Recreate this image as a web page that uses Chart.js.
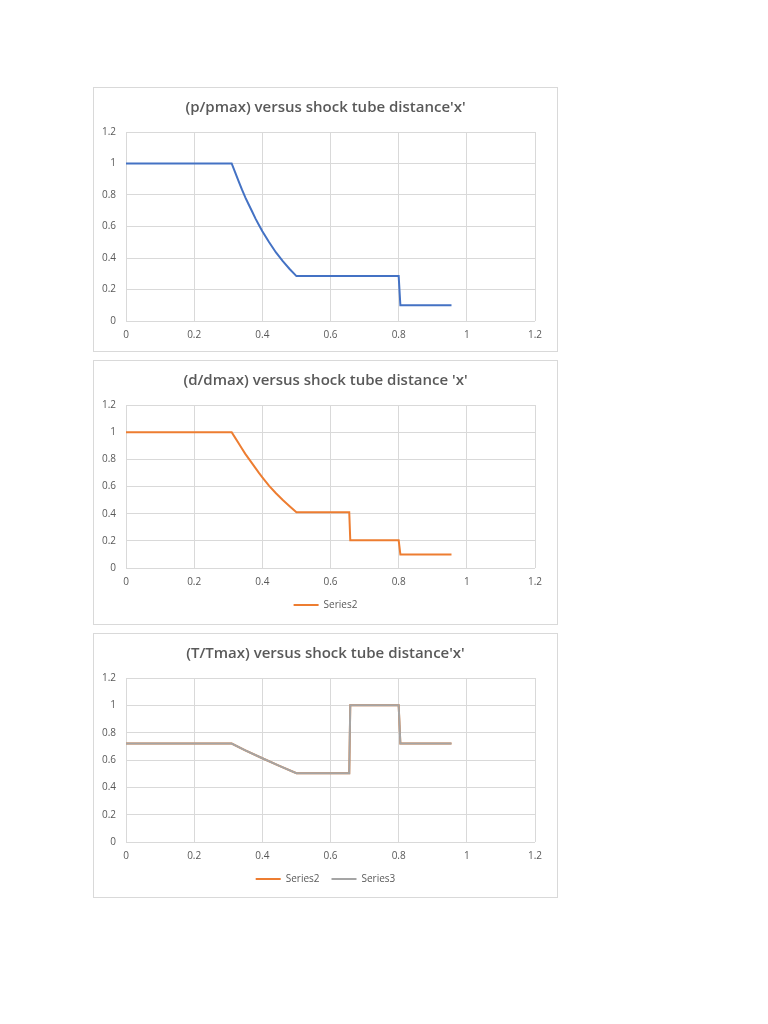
<!DOCTYPE html>
<html lang="en">
  <head>
    <meta charset="UTF-8" />
    <title>Shock tube</title>
    <style>
      body { margin: 0; background: #fff; }
      .box {
        position: absolute;
        left: 93px;
        width: 465px;
        height: 265px;
        border: 1px solid #d9d9d9;
        box-sizing: border-box;
      }
    </style>
  </head>
  <body>
    <div class="box" style="top: 87px"><canvas id="chartP" width="463" height="263"></canvas></div>
    <div class="box" style="top: 360px"><canvas id="chartD" width="463" height="263"></canvas></div>
    <div class="box" style="top: 633px"><canvas id="chartT" width="463" height="263"></canvas></div>
    <script src="https://cdn.jsdelivr.net/npm/chart.js"></script>
    <script>
      // values
      const pressureX = [0, 0.31, 0.32, 0.33, 0.34, 0.35, 0.36, 0.37, 0.38, 0.39, 0.4, 0.42, 0.44, 0.46, 0.48, 0.5, 0.8, 0.805, 0.955];
      const pressureY = [1, 1, 0.945, 0.89, 0.835, 0.785, 0.74, 0.695, 0.65, 0.61, 0.57, 0.5, 0.435, 0.38, 0.33, 0.285, 0.285, 0.1, 0.1];

      const densityX = [0, 0.31, 0.32, 0.33, 0.34, 0.35, 0.36, 0.37, 0.38, 0.39, 0.4, 0.42, 0.44, 0.46, 0.48, 0.5, 0.655, 0.658, 0.8, 0.805, 0.955];
      const densityY = [1, 1, 0.96, 0.92, 0.88, 0.84, 0.805, 0.77, 0.735, 0.7, 0.668, 0.605, 0.55, 0.5, 0.454, 0.41, 0.41, 0.205, 0.205, 0.1, 0.1];

      const tempX = [0, 0.31, 0.35, 0.4, 0.45, 0.5, 0.655, 0.658, 0.8, 0.805, 0.955];
      const tempY = [0.72, 0.72, 0.671, 0.613, 0.557, 0.503, 0.503, 1, 1, 0.72, 0.72];

      const axisTicks = [0, 0.2, 0.4, 0.6, 0.8, 1, 1.2];

      const BLUE = "#4472c4";
      const ORANGE = "#ed7d31";
      const GRAY = "#a5a5a5";
      const TEXT = "#595959";
      const GRID = "#d9d9d9";

      Chart.defaults.font.family = "'Open Sans', Lato, sans-serif";
      Chart.defaults.color = TEXT;

      function toPoints(xs, ys) {
        return xs.map((x, i) => ({ x: x, y: ys[i] }));
      }

      function lineSet(label, xs, ys, color, order) {
        return {
          label: label,
          data: toPoints(xs, ys),
          showLine: true,
          borderColor: color,
          backgroundColor: color,
          borderWidth: 2,
          pointRadius: 0,
          tension: 0,
          order: order,
        };
      }

      function makeChart(id, title, datasets, showLegend, bottomPad) {
        const axis = {
          type: "linear",
          min: 0,
          max: 1.2,
          afterBuildTicks: (scale) => {
            scale.ticks = axisTicks.map((v) => ({ value: v }));
          },
          grid: { color: GRID, drawTicks: false },
          border: { display: false },
          ticks: {
            font: { size: 10 },
            color: TEXT,
            callback: (v) => String(+v.toFixed(1)),
          },
        };
        new Chart(document.getElementById(id), {
          type: "scatter",
          data: { datasets: datasets },
          options: {
            responsive: false,
            animation: false,
            layout: { padding: { left: 0, right: 0, top: 0, bottom: bottomPad } },
            scales: {
              x: {
                ...axis,
                ticks: { ...axis.ticks, padding: 8 },
                afterFit: (scale) => { scale.height = 20; },
              },
              y: {
                ...axis,
                ticks: { ...axis.ticks, padding: 10 },
                afterFit: (scale) => { scale.width = 32; },
              },
              // empty right-hand margin so the title stays centred on the whole box
              yRight: {
                type: "linear",
                position: "right",
                min: 0,
                max: 1.2,
                grid: { display: false },
                border: { display: false },
                ticks: { display: false },
                afterFit: (scale) => { scale.width = 22; },
              },
            },
            plugins: {
              title: {
                display: true,
                text: title,
                color: TEXT,
                font: { size: 15, weight: "600" },
                padding: { top: 11, bottom: 15 },
              },
              legend: {
                display: showLegend,
                position: "bottom",
                labels: {
                  usePointStyle: true,
                  pointStyle: "line",
                  pointStyleWidth: 25,
                  font: { size: 10 },
                  color: TEXT,
                  padding: 12,
                  sort: (a, b) => a.datasetIndex - b.datasetIndex,
                },
              },
              tooltip: { enabled: false },
            },
          },
        });
      }

      makeChart("chartP", "(p/pmax) versus shock tube distance'x'",
        [lineSet("Series1", pressureX, pressureY, BLUE, 0)], false, 10);

      makeChart("chartD", "(d/dmax) versus shock tube distance 'x'",
        [lineSet("Series2", densityX, densityY, ORANGE, 0)], true, 4);

      makeChart("chartT", "(T/Tmax) versus shock tube distance'x'",
        [
          lineSet("Series2", tempX, tempY, ORANGE, 1),
          lineSet("Series3", tempX, tempY, GRAY, 0),
        ], true, 3);
    </script>
  </body>
</html>
